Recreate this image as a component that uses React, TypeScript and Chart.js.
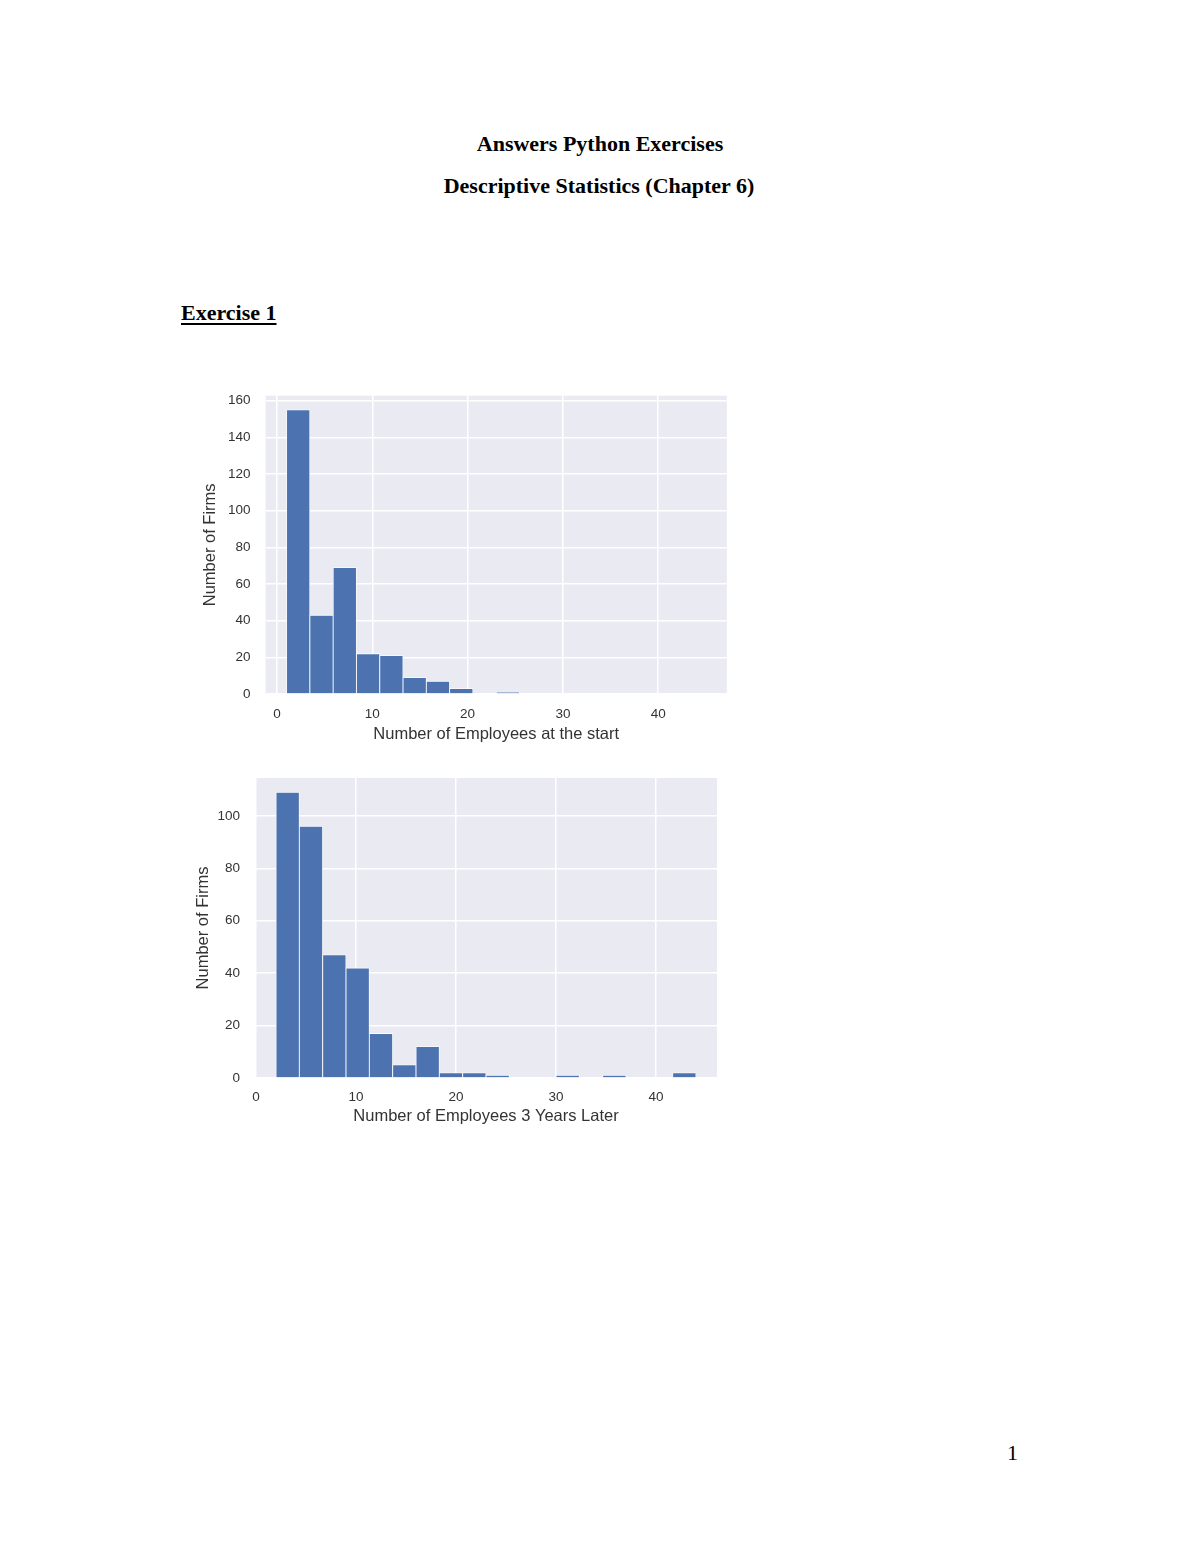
import React, { useEffect, useRef } from "react";
import { Chart, registerables } from "chart.js";

Chart.register(...registerables);

// ---------- data ----------
const binEdgesStart = [1, 3.444, 5.889, 8.333, 10.778, 13.222, 15.667, 18.111, 20.556, 23, 25.444, 27.889, 30.333, 32.778, 35.222, 37.667, 40.111, 42.556, 45];
const countsStart = [155, 43, 69, 22, 21, 9, 7, 3, 0, 1, 0, 0, 0, 0, 0, 0, 0, 0];

const binEdgesLater = [2, 4.333, 6.667, 9, 11.333, 13.667, 16, 18.333, 20.667, 23, 25.333, 27.667, 30, 32.333, 34.667, 37, 39.333, 41.667, 44];
const countsLater = [109, 96, 47, 42, 17, 5, 12, 2, 2, 1, 0, 0, 1, 0, 1, 0, 0, 2];

const xTickValues = [0, 10, 20, 30, 40];
const yTicksStart = [0, 20, 40, 60, 80, 100, 120, 140, 160];
const yTicksLater = [0, 20, 40, 60, 80, 100];

const xLimitsStart = [-1.2, 47.2];
const xLimitsLater = [-0.1, 46.1];
const yMaxStart = 162.75;
const yMaxLater = 114.45;

const yAxisTitle = "Number of Firms";
const xTitleStart = "Number of Employees at the start";
const xTitleLater = "Number of Employees 3 Years Later";

// ---------- styles ----------
const BAR_COLOR = "#4C72B0";
const PLOT_BG = "#EAEAF2";
const TEXT_COLOR = "#333333";
const SANS = "'Liberation Sans', Arial, sans-serif";
const SERIF = "'Liberation Serif', 'Times New Roman', serif";

const plotBgPlugin = {
  id: "plotBg",
  beforeDraw(chart: any) {
    const { ctx, chartArea: a } = chart;
    ctx.save();
    ctx.fillStyle = PLOT_BG;
    ctx.fillRect(a.left, a.top, a.right - a.left, a.bottom - a.top);
    ctx.restore();
  },
};

type HistProps = {
  edges: number[];
  counts: number[];
  xLimits: number[];
  yMax: number;
  yTicks: number[];
  xTitle: string;
  left: number;
  top: number;
  width: number;
  height: number;
  padTop: number;
  padRight: number;
  yAxisWidth: number;
  xAxisHeight: number;
  xTickPad: number;
  yTickPad: number;
};

function Histogram(p: HistProps) {
  const ref = useRef<HTMLCanvasElement | null>(null);
  useEffect(() => {
    if (!ref.current) return;
    const data = p.counts.map((c, i) => ({
      x: (p.edges[i] + p.edges[i + 1]) / 2,
      y: c,
    }));
    const tickFont = { family: SANS, size: 13.5 };
    const titleFont = { family: SANS, size: 16.5 };
    const chart = new Chart(ref.current, {
      type: "bar",
      data: {
        datasets: [
          {
            data: data as any,
            backgroundColor: BAR_COLOR,
            borderColor: "#FFFFFF",
            borderWidth: 0.8,
            barPercentage: 1,
            categoryPercentage: 1,
          },
        ],
      },
      options: {
        animation: false,
        responsive: false,
        devicePixelRatio: 1,
        layout: { padding: { top: p.padTop, right: p.padRight, left: 0, bottom: 0 } },
        plugins: { legend: { display: false }, tooltip: { enabled: false } },
        scales: {
          x: {
            type: "linear",
            min: p.xLimits[0],
            max: p.xLimits[1],
            offset: false,
            afterBuildTicks: (s: any) => {
              s.ticks = xTickValues.map((v) => ({ value: v }));
            },
            afterFit: (s: any) => {
              s.height = p.xAxisHeight;
              s.paddingLeft = 0;
              s.paddingRight = 0;
            },
            grid: { color: "#FFFFFF", lineWidth: 1.5, drawTicks: false, offset: false },
            border: { display: false },
            ticks: { padding: p.xTickPad, font: tickFont, color: TEXT_COLOR, maxRotation: 0, autoSkip: false },
            title: { display: true, text: p.xTitle, font: titleFont, color: TEXT_COLOR, padding: 0 },
          },
          y: {
            type: "linear",
            min: 0,
            max: p.yMax,
            afterBuildTicks: (s: any) => {
              s.ticks = p.yTicks.map((v) => ({ value: v }));
            },
            afterFit: (s: any) => {
              s.width = p.yAxisWidth;
              s.paddingTop = 0;
              s.paddingBottom = 0;
            },
            grid: { color: "#FFFFFF", lineWidth: 1.5, drawTicks: false },
            border: { display: false },
            ticks: { padding: p.yTickPad, font: tickFont, color: TEXT_COLOR, autoSkip: false },
            title: { display: true, text: yAxisTitle, font: titleFont, color: TEXT_COLOR, padding: 0 },
          },
        },
      },
      plugins: [plotBgPlugin],
    });
    return () => chart.destroy();
  }, []);
  return (
    <canvas
      ref={ref}
      width={p.width}
      height={p.height}
      style={{ position: "absolute", left: p.left, top: p.top, width: p.width, height: p.height }}
    />
  );
}

export default function App() {
  const textBase: React.CSSProperties = {
    position: "absolute",
    fontFamily: SERIF,
    fontSize: 22,
    lineHeight: "22px",
    color: "#000",
    whiteSpace: "nowrap",
  };
  return (
    <div style={{ position: "absolute", left: 0, top: 0, width: 1200, height: 1553, background: "#fff", overflow: "hidden" }}>
      <div style={{ ...textBase, left: 0, width: 1200, top: 133, textAlign: "center", fontWeight: "bold" }}>
        Answers Python Exercises
      </div>
      <div style={{ ...textBase, left: 0, width: 1198, top: 175, textAlign: "center", fontWeight: "bold" }}>
        Descriptive Statistics (Chapter 6)
      </div>
      <div
        style={{
          ...textBase,
          left: 181,
          top: 302,
          fontWeight: "bold",
          textDecoration: "underline",
          textDecorationThickness: "2px",
          textUnderlineOffset: "3px",
        }}
      >
        Exercise 1
      </div>

      <Histogram
        edges={binEdgesStart}
        counts={countsStart}
        xLimits={xLimitsStart}
        yMax={yMaxStart}
        yTicks={yTicksStart}
        xTitle={xTitleStart}
        left={201}
        top={380}
        width={536}
        height={364}
        padTop={15.7}
        padRight={10.2}
        yAxisWidth={64.6}
        xAxisHeight={50}
        xTickPad={12}
        yTickPad={15}
      />
      <Histogram
        edges={binEdgesLater}
        counts={countsLater}
        xLimits={xLimitsLater}
        yMax={yMaxLater}
        yTicks={yTicksLater}
        xTitle={xTitleLater}
        left={194}
        top={765}
        width={533}
        height={361}
        padTop={13}
        padRight={10}
        yAxisWidth={61}
        xAxisHeight={48}
        xTickPad={11}
        yTickPad={15}
      />

      <div style={{ ...textBase, left: 1007, top: 1442 }}>1</div>
    </div>
  );
}
